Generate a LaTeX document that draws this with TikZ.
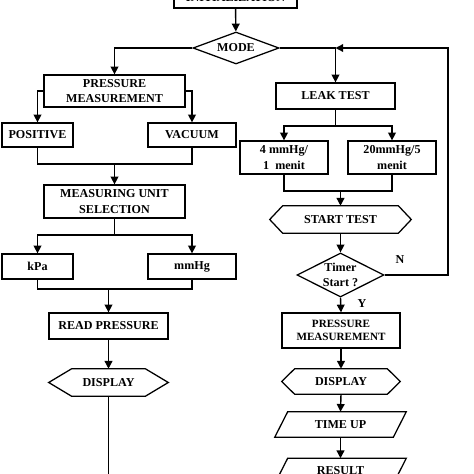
\documentclass[tikz,border=0pt]{standalone}
\usepackage{fontspec}
\setmainfont{Liberation Serif}
\usetikzlibrary{shapes.geometric,arrows.meta,calc}

\begin{document}
\begin{tikzpicture}[
  x=0.025cm, y=-0.025cm,
  every node/.style={font=\fontsize{8.6}{11}\selectfont\bfseries, align=center, inner sep=0pt},
  box/.style={draw, rectangle, line width=0.9pt},
  txt/.style={rectangle},
  decision/.style={draw, diamond, aspect=2, line width=0.9pt},
  flow/.style={-{Triangle[length=5.5pt,width=5.5pt]}, line width=1pt},
  wire/.style={line width=1pt}
  ]
  \useasboundingbox (0,0) rectangle (474,474);

  % main branch
  \node[box, minimum width=3.075cm, minimum height=0.5cm] (init) at (235.5,-2) {INITIALIZATION};
  \node[decision, minimum width=2.15cm, minimum height=0.8cm] (mode) at (236,48) {MODE};

  % pressure measurement side
  \node[box, minimum width=3.525cm, minimum height=0.8cm] (pm1) at (114.5,91) {PRESSURE\\MEASUREMENT};
  \node[box, minimum width=1.775cm, minimum height=0.6cm] (pos) at (37.5,135) {POSITIVE};
  \node[box, minimum width=2.2cm, minimum height=0.6cm] (vac) at (192,135) {VACUUM};
  \node[box, minimum width=3.525cm, minimum height=0.825cm] (mus) at (114.5,201.5) {MEASURING UNIT\\SELECTION};
  \node[box, minimum width=1.775cm, minimum height=0.625cm] (kpa) at (37.5,266.5) {kPa};
  \node[box, minimum width=2.2cm, minimum height=0.625cm] (mmhg) at (192,266.5) {mmHg};
  \node[box, minimum width=2.975cm, minimum height=0.65cm] (read) at (108.5,326) {READ PRESSURE};
  \node[txt, minimum width=2.975cm, minimum height=0.675cm] (disp1) at (108.5,382.5) {DISPLAY};

  % leak test side
  \node[box, minimum width=2.975cm, minimum height=0.65cm] (leak) at (335.5,96) {LEAK TEST};
  \node[box, minimum width=2.2cm, minimum height=0.825cm] (m4) at (284,157.5) {4 mmHg/\\1\ \ menit};
  \node[box, minimum width=2.2cm, minimum height=0.825cm] (m20) at (392,157.5) {20mmHg/5\\menit};
  \node[txt, minimum width=3.525cm, minimum height=0.675cm] (start) at (340.5,219.5) {START TEST};
  \node[decision, minimum width=2.175cm, minimum height=1.1cm] (timer) at (340.5,275) {Timer\\Start ?};
  \node[box, minimum width=2.95cm, minimum height=0.875cm, font=\fontsize{7.9}{9.5}\selectfont\bfseries] (pm2) at (341,330.5) {PRESSURE\\MEASUREMENT};
  \node[txt, minimum width=2.95cm, minimum height=0.625cm] (disp2) at (341,381.5) {DISPLAY};
  \node[txt, minimum width=2.95cm, minimum height=0.625cm] (tup) at (340.5,424.5) {TIME UP};
  \node[txt, minimum width=2.95cm, minimum height=0.625cm] (res) at (340.5,471) {RESULT};
  \node (nlab) at (400,260) {N};
  \node (ylab) at (362,304) {Y};

  % outlines of display, start and parallelogram boxes
  \draw[box] (disp1.west) -- ($(disp1.north west)+(23,0)$) -- ($(disp1.north east)+(-23,0)$) -- (disp1.east)
    -- ($(disp1.south east)+(-23,0)$) -- ($(disp1.south west)+(23,0)$) -- cycle;
  \draw[box] (start.west) -- ($(start.north west)+(13,0)$) -- ($(start.north east)+(-13,0)$) -- (start.east)
    -- ($(start.south east)+(-13,0)$) -- ($(start.south west)+(13,0)$) -- cycle;
  \draw[box] (disp2.west) -- ($(disp2.north west)+(13,0)$) -- ($(disp2.north east)+(-13,0)$) -- (disp2.east)
    -- ($(disp2.south east)+(-13,0)$) -- ($(disp2.south west)+(13,0)$) -- cycle;
  \draw[box] ($(tup.south west)+(-6.5,0)$) -- ($(tup.north west)+(6.5,0)$) -- ($(tup.north east)+(6.5,0)$)
    -- ($(tup.south east)+(-6.5,0)$) -- cycle;
  \draw[box] ($(res.south west)+(-6.5,0)$) -- ($(res.north west)+(6.5,0)$) -- ($(res.north east)+(6.5,0)$)
    -- ($(res.south east)+(-6.5,0)$) -- cycle;

  % junctions
  \coordinate (jm) at (335.5,48);
  \coordinate (lp) at (448,48);
  \coordinate (j1) at (114.5,164);
  \coordinate (j2) at (114.5,235);
  \coordinate (j3) at (108.5,289);
  \coordinate (j4) at (335.5,126);
  \coordinate (j5) at (340.5,191);
  \coordinate (tail) at (108.5,480);

  % connectors
  \draw[flow] (init) -- (mode);
  \draw[flow] (mode) -| (pm1);
  \draw[wire] (mode.east) -- (jm);
  \draw[flow] (jm) -- (leak.north);
  \draw[flow] (pm1.west) -| (pos.north);
  \draw[flow] (pm1.east) -| (vac.north);
  \draw[wire] (pos.south) |- (j1) -| (vac.south);
  \draw[flow] (j1) -- (mus.north);
  \draw[wire] (mus.south) -- (j2);
  \draw[flow] (j2) -| (kpa.north);
  \draw[flow] (j2) -| (mmhg.north);
  \draw[wire] (kpa.south) |- (j3) -| (mmhg.south);
  \draw[flow] (j3) -- (read.north);
  \draw[flow] (read) -- (disp1);
  \draw[wire] (disp1.south) -- (tail);

  \draw[wire] (leak.south) -- (j4);
  \draw[flow] (j4) -| (m4.north);
  \draw[flow] (j4) -| (m20.north);
  \draw[wire] (m4.south) |- (j5) -| (m20.south);
  \draw[flow] (j5) -- (start.north);
  \draw[flow] (start.south) -- (timer.north);
  \draw[flow] (timer.east) -| (lp) -- (jm);
  \draw[flow] (timer.south) -- (pm2.north);
  \draw[flow] (pm2) -- (disp2.north);
  \draw[flow] (disp2.south) -- (tup.north);
  \draw[flow] (tup.south) -- (res.north);
\end{tikzpicture}
\end{document}
